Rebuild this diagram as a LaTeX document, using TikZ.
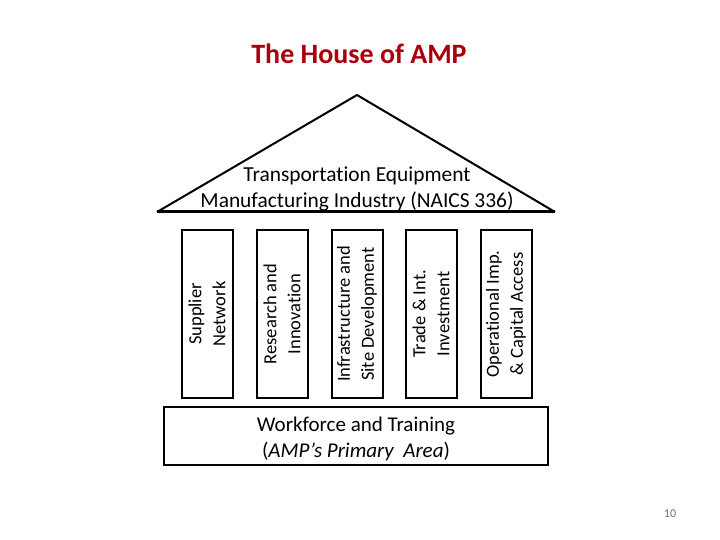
\documentclass[tikz,border=0pt]{standalone}
\usepackage{fontspec}
\setmainfont{Carlito}[RawFeature=-liga]
\definecolor{titlered}{RGB}{170,0,12}
\definecolor{pagegray}{RGB}{110,110,110}
\tikzset{
  pillar/.style={draw, line width=2pt, rotate=90, minimum width=168pt,
    minimum height=51pt, align=center, inner sep=0pt,
    font=\fontsize{18.5}{24}\selectfont},
  housetext/.style={align=center, font=\fontsize{21.4}{26}\selectfont}
}
\begin{document}
\begin{tikzpicture}[x=1pt,y=-1pt]
\useasboundingbox (0,0) rectangle (720,540);

\node[text=titlered, font=\fontsize{28}{32}\bfseries\selectfont] (title) at (359,54) {The House of AMP};

% roof
\coordinate (roofL) at (157,212);
\coordinate (roofT) at (357,95);
\coordinate (roofR) at (555,212);
\draw[line width=2pt, line join=round] (roofL) -- (roofT) -- (roofR);
\draw[line width=3pt] (roofL) -- (roofR);
\node[housetext] (roof) at (357,189) {Transportation Equipment\\Manufacturing Industry (NAICS 336)};

% pillars
\node[pillar] (p1) at (207,314) {Supplier\\Network};
\node[pillar] (p2) at (282,314) {Research and\\Innovation};
\node[pillar] (p3) at (357,314) {Infrastructure and\\Site Development};
\node[pillar] (p4) at (431,314) {Trade \& Int.\\Investment};
\node[pillar] (p5) at (506,314) {Operational Imp.\\\& Capital Access};

% base
\node[draw, line width=2pt, minimum width=384pt, minimum height=58pt] (base) at (356,436) {};
\node[align=center, font=\fontsize{21}{26}\selectfont] (basetext) at ([yshift=-3pt]base.center)
  {Workforce and Training\\(\textit{AMP’s Primary\ \ Area})};

\node[text=pagegray, font=\fontsize{12}{14}\selectfont] (pagenum) at (670,514) {10};
\end{tikzpicture}
\end{document}
